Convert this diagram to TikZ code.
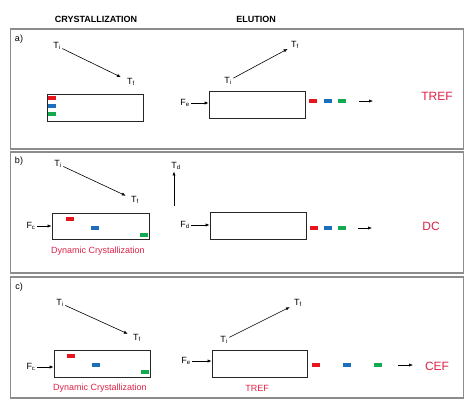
\documentclass[tikz,border=0pt]{standalone}
\usepackage{fontspec}
\setmainfont{Liberation Sans}
\usetikzlibrary{arrows.meta}
\definecolor{txtred}{RGB}{222,34,70}
\definecolor{barred}{RGB}{232,20,30}
\definecolor{barblue}{RGB}{30,110,190}
\definecolor{bargreen}{RGB}{20,170,80}
\definecolor{framegray}{RGB}{140,140,140}
\tikzset{
  frame/.style={draw=framegray, line width=1.1pt, minimum width=453pt, minimum height=121pt, inner sep=0pt},
  col/.style={draw=black!85, line width=0.7pt, minimum width=96pt, minimum height=27pt, inner sep=0pt},
  bar/.style={minimum width=8pt, minimum height=3.6pt, inner sep=0pt},
  rb/.style={bar, fill=barred},
  bb/.style={bar, fill=barblue},
  gb/.style={bar, fill=bargreen},
  lbl/.style={font=\fontsize{9}{10}\selectfont, inner sep=1.5pt},
  head/.style={font=\fontsize{9}{10}\selectfont\bfseries, inner sep=0pt},
  redlbl/.style={font=\fontsize{9}{10}\selectfont, text=txtred, inner sep=0pt},
  big/.style={font=\fontsize{12}{14}\selectfont, text=txtred, inner sep=0pt},
  arr/.style={-{Latex[length=4pt,width=3.2pt]}, line width=0.6pt, black}
}
\begin{document}
\begin{tikzpicture}[x=1pt,y=-1pt]
\useasboundingbox (0,0) rectangle (474,413);
% headers
\node[head] (h1) at (96,19) {CRYSTALLIZATION};
\node[head] (h2) at (256,19) {ELUTION};
% ---------- panel a
\node[frame] (fa) at (237.3,89) [minimum height=120pt] {};
\node[lbl] (la) at (19,39) {a)};
\node[lbl] (ati) at (57,46) {T\textsubscript{i}};
\node[lbl] (atf) at (131,82) {T\textsubscript{f}};
\draw[arr, shorten >=5pt] (ati) -- (atf);
\node[col] (ac) at (95,107.5) {};
\node[rb] (ar1) at (52,98) {};
\node[bb] (ab1) at (52,106) {};
\node[gb] (ag1) at (52,114) {};
\node[lbl] (afe) at (185,103) {F\textsubscript{e}};
\node[col] (ae) at (257,104.5) {};
\draw[arr] (afe) -- (ae.west |- afe);
\node[lbl] (ati2) at (228,81) {T\textsubscript{i}};
\node[lbl] (atf2) at (295,45) {T\textsubscript{f}};
\draw[arr, shorten >=2pt] (ati2) -- (atf2);
\node[rb] (ar2) at (313,101) {};
\node[bb] (ab2) at (328,101) {};
\node[gb] (ag2) at (342,101) {};
\coordinate (aend) at (373,101);
\draw[arr, shorten <=13pt] (ag2) -- (aend);
\node[big] (tref1) at (437,96) {TREF};
% ---------- panel b
\node[frame] (fb) at (237.3,212.5) {};
\node[lbl] (lb) at (19,161) {b)};
\node[lbl] (bti) at (58,164) {T\textsubscript{i}};
\node[lbl] (btf) at (135,200) {T\textsubscript{f}};
\draw[arr, shorten >=4pt] (bti) -- (btf);
\node[lbl] (btd) at (176,166) {T\textsubscript{d}};
\coordinate (bts) at (174,206);
\draw[arr] (bts) -- (bts |- btd.south);
\node[col, minimum width=97pt, minimum height=26pt] (bc) at (100.5,226) {};
\node[lbl] (bfc) at (31,226) {F\textsubscript{c}};
\draw[arr] (bfc) -- (bc.west |- bfc);
\node[rb] (br1) at (69.5,219) {};
\node[bb] (bb1) at (95,228) {};
\node[gb] (bg1) at (144,235) {};
\node[redlbl] (bdyn) at (98,251) {Dynamic Crystallization};
\node[lbl] (bfd) at (185,225) {F\textsubscript{d}};
\node[col] (bd) at (258,225.5) {};
\draw[arr] (bfd) -- (bd.west |- bfd);
\node[rb] (br2) at (314,228) {};
\node[bb] (bb2) at (328,228) {};
\node[gb] (bg2) at (342,228) {};
\coordinate (bend) at (372,228);
\draw[arr, shorten <=12pt] (bg2) -- (bend);
\node[big] (dc) at (431,226) {DC};
% ---------- panel c
\node[frame] (fc) at (237.3,337.5) {};
\node[lbl] (lc) at (19,287) {c)};
\node[lbl] (cti) at (60,303) {T\textsubscript{i}};
\node[lbl] (ctf) at (137,338) {T\textsubscript{f}};
\draw[arr, shorten >=4pt] (cti) -- (ctf);
\node[col] (cc) at (102,363.5) {};
\node[lbl] (cfc) at (31,367) {F\textsubscript{c}};
\draw[arr] (cfc) -- (cc.west |- cfc);
\node[rb] (cr1) at (71,356) {};
\node[bb] (cb1) at (96,365) {};
\node[gb] (cg1) at (145,372) {};
\node[redlbl] (cdyn) at (100,388) {Dynamic Crystallization};
\node[lbl] (cfe) at (186,361) {F\textsubscript{e}};
\node[col, minimum width=95pt] (ce) at (259.5,363.5) {};
\draw[arr] (cfe) -- (ce.west |- cfe);
\node[lbl] (cti2) at (224,340) {T\textsubscript{i}};
\node[lbl] (ctf2) at (298,303) {T\textsubscript{f}};
\draw[arr, shorten >=3pt] (cti2) -- (ctf2);
\node[redlbl] (ctref) at (257,388) {TREF};
\node[rb] (cr2) at (315.5,365) {};
\node[bb] (cb2) at (346.5,365) {};
\node[gb] (cg2) at (378,365) {};
\coordinate (cend) at (413,365);
\draw[arr, shorten <=16pt] (cg2) -- (cend);
\node[big] (cef) at (437,366) {CEF};
\end{tikzpicture}
\end{document}
